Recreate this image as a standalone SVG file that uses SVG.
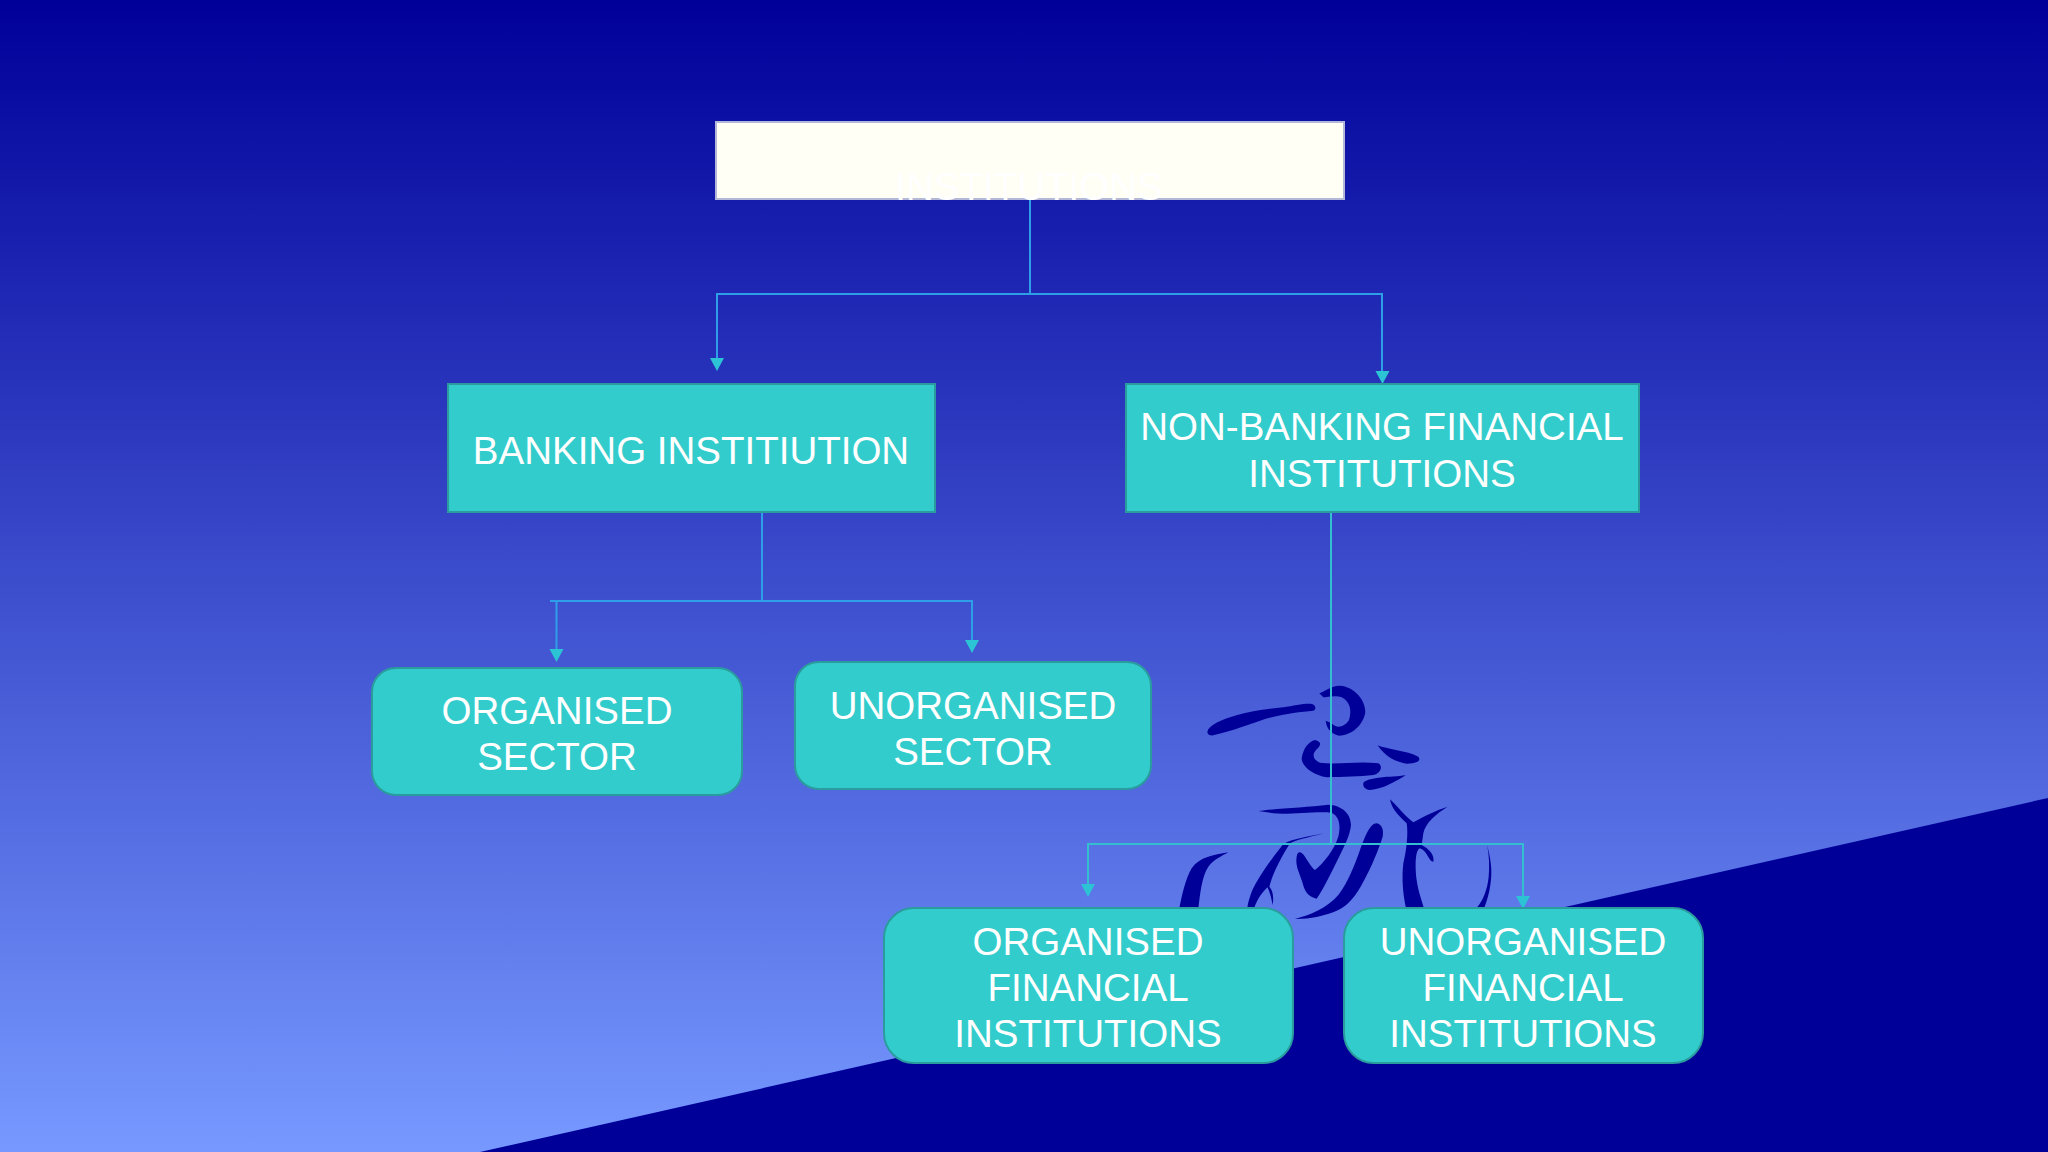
<svg xmlns="http://www.w3.org/2000/svg" width="2048" height="1152" viewBox="0 0 2048 1152">
<defs>
<linearGradient id="bg" x1="0" y1="0" x2="0" y2="1"><stop offset="0" stop-color="#000099"/><stop offset="1" stop-color="#7799ff"/></linearGradient>
</defs>
<style>
.box{fill:#33cccc;stroke:#2a9c9e;stroke-width:2}
.t{font-family:"Liberation Sans",Arial,sans-serif;font-size:38.5px;fill:#fff;text-anchor:middle}
.c1{fill:none;stroke:#2f9ee8;stroke-width:2}
.c2{fill:none;stroke:#33bfd0;stroke-width:2}
.h{fill:#2cc3d4}
.m{fill:#000099}
</style>
<rect id="background" width="2048" height="1152" fill="url(#bg)"/>
<polygon id="band" points="480,1152 2048,798 2048,1152" fill="#000099"/>
<g id="motif" transform="translate(1150,660) scale(0.33333)">
<path class="m" d="M172,215C176,196 215,178 262,165C300,155 345,147 400,142C430,137 460,130 482,131C497,133 501,146 490,152C450,155 400,162 345,177C300,192 255,210 190,226C178,227 172,222 172,215Z"/>
<path class="m" d="M508,100C525,95 540,78 570,77C610,80 645,115 646,155C642,190 610,225 567,227C548,222 530,210 527,182L545,190C560,208 585,200 597,180C606,150 600,125 575,112C555,105 530,112 520,112Z"/>
<path class="m" d="M495,240C515,245 515,255 498,270C485,285 490,300 510,308C560,315 620,303 685,310C700,318 692,340 670,345C630,350 580,350 530,352C490,345 455,320 455,295C460,265 475,245 495,240Z"/>
<path class="m" d="M683,256C710,268 770,272 805,290C815,302 800,310 770,311C735,305 705,290 683,256Z"/>
<path class="m" d="M640,368C660,350 720,352 767,346C740,362 700,388 660,390C645,388 638,380 640,368Z"/>
<path class="m" d="M325,453C380,445 470,442 535,434C575,436 603,460 603,495C600,525 585,555 570,585C550,625 525,680 500,716C480,712 465,700 458,670C450,640 435,620 440,590C443,570 455,575 465,590C475,605 487,625 495,630C520,610 552,570 565,530C572,500 570,470 545,458C500,452 420,465 370,460Z"/>
<path class="m" d="M680,490C695,492 702,510 698,530C685,570 665,620 640,665C620,705 595,735 565,750C530,768 470,778 435,777C480,765 530,745 565,705C595,665 612,620 630,570C645,530 660,490 680,490Z"/>
<path class="m" d="M720,418C740,435 765,470 790,487C820,470 860,450 893,440C860,460 825,490 820,520L815,555C835,565 855,585 850,605C835,605 835,575 810,565C795,570 795,620 800,660C805,695 815,720 822,745L768,745C758,700 755,650 760,610C770,570 775,520 770,490C750,470 725,450 720,418Z"/>
<path class="m" d="M1010,550C1015,570 1020,610 1016,650C1012,690 998,725 978,745L1002,745C1015,715 1025,670 1024,630C1023,600 1015,570 1010,550Z"/>
<path class="m" d="M235,577C190,585 150,590 125,625C105,660 95,710 88,745L145,745C150,705 155,650 175,620C190,600 215,588 235,577Z"/>
<path class="m" d="M520,520C480,530 430,535 400,552C370,590 325,650 305,695C298,715 293,730 292,745L312,745C325,710 340,695 352,682C360,695 365,720 368,735C372,710 368,690 358,680C368,640 395,590 420,550C450,535 490,530 520,520Z"/>
</g>
<g id="connectors">
<path class="c1" d="M1030,200V294M716,294H1383M717,294V360M1382,294V372"/>
<path class="c1" d="M762,512V601M550,601H973M556.500,601V650M972,601V641"/>
<path class="c2" d="M1331,512V844M1087,844H1524M1088,844V885M1523,844V897"/>
<polygon class="h" points="710,358 724,358 717,371"/>
<polygon class="h" points="1375.500,371 1389.500,371 1382.500,384"/>
<polygon class="h" points="549.500,649 563.500,649 556.500,662"/>
<polygon class="h" points="965,640 979,640 972,653"/>
<polygon class="h" points="1081,884 1095,884 1088,897"/>
<polygon class="h" points="1516,896 1530,896 1523,909"/>
</g>
<g id="root"><rect x="716" y="122" width="628" height="77" fill="#fffff5" stroke="#b4b8d8" stroke-width="2"/><text class="t" x="1029" y="200">INSTITUTIONS</text></g>
<g id="banking"><rect class="box" x="448" y="384" width="487" height="128"/><text class="t" x="691" y="464">BANKING INSTITIUTION</text></g>
<g id="nonbanking"><rect class="box" x="1126" y="384" width="513" height="128"/><text class="t" x="1382" y="440">NON-BANKING FINANCIAL</text><text class="t" x="1382" y="487">INSTITUTIONS</text></g>
<g id="organised"><rect class="box" x="372" y="668" width="370" height="127" rx="24"/><text class="t" x="557" y="724">ORGANISED</text><text class="t" x="557" y="770">SECTOR</text></g>
<g id="unorganised"><rect class="box" x="795" y="662" width="356" height="127" rx="24"/><text class="t" x="973" y="719">UNORGANISED</text><text class="t" x="973" y="765">SECTOR</text></g>
<g id="orgfin"><rect class="box" x="884" y="908" width="409" height="155" rx="30"/><text class="t" x="1088" y="955">ORGANISED</text><text class="t" x="1088" y="1001">FINANCIAL</text><text class="t" x="1088" y="1047">INSTITUTIONS</text></g>
<g id="unorgfin"><rect class="box" x="1344" y="908" width="359" height="155" rx="30"/><text class="t" x="1523" y="955">UNORGANISED</text><text class="t" x="1523" y="1001">FINANCIAL</text><text class="t" x="1523" y="1047">INSTITUTIONS</text></g>
</svg>
